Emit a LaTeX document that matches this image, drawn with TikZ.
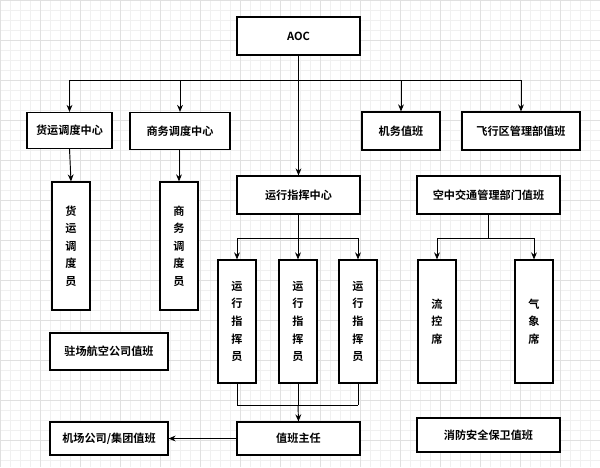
\documentclass[tikz,border=0pt]{standalone}
\usepackage{fontspec}
\newfontfamily\cjk{Noto Sans CJK SC}[BoldFont={Noto Sans CJK SC Bold}]
\usetikzlibrary{arrows.meta}
\begin{document}
\begin{tikzpicture}[x=0.03cm,y=-0.03cm,
  box/.style={draw=black,line width=1pt,fill=white,inner sep=0pt,font=\cjk\bfseries\fontsize{9.5}{12}\selectfont,align=center},
  ar/.style={line width=0.8pt,-{Stealth[length=6pt,width=5pt]}},
  ln/.style={line width=0.8pt}]
\useasboundingbox (0,0) rectangle (600,467);
\fill[white] (0,0) rectangle (600,467);
\foreach \i in {0,10,...,600} \draw[black!6,line width=0.3pt] (\i,0)--(\i,467);
\foreach \i in {0,10,...,460} \draw[black!6,line width=0.3pt] (0,\i)--(600,\i);
\foreach \i in {0,40,...,600} \draw[black!12,line width=0.4pt] (\i,0)--(\i,467);
\foreach \i in {0,40,...,460} \draw[black!12,line width=0.4pt] (0,\i)--(600,\i);
\newcommand{\bx}[6]{\node[box,minimum width=#3*0.03cm,minimum height=#4*0.03cm] (#1) at (#2) {#5};}
\bx{aoc}{298.5,36}{123}{38}{AOC}{}
\bx{hy}{69.5,130.5}{85}{36}{货运调度中心}{}
\bx{sw}{180,131}{100}{37}{商务调度中心}{}
\bx{jw}{401,131}{78}{38}{机务值班}{}
\bx{fx}{521,131}{118}{38}{飞行区管理部值班}{}
\bx{yx}{298.5,195}{123}{38}{运行指挥中心}{}
\bx{kz}{488.5,195}{143}{38}{空中交通管理部门值班}{}
\bx{hyy}{71,246}{38}{128}{货\\[3pt]运\\[3pt]调\\[3pt]度\\[3pt]员}{}
\bx{swy}{179,246}{38}{128}{商\\[3pt]务\\[3pt]调\\[3pt]度\\[3pt]员}{}
\bx{z1}{237,321.5}{38}{123}{运\\[3pt]行\\[3pt]指\\[3pt]挥\\[3pt]员}{}
\bx{z2}{298,321.5}{38}{123}{运\\[3pt]行\\[3pt]指\\[3pt]挥\\[3pt]员}{}
\bx{z3}{358,321.5}{38}{123}{运\\[3pt]行\\[3pt]指\\[3pt]挥\\[3pt]员}{}
\bx{lk}{437,321.5}{38}{123}{流\\[3pt]控\\[3pt]席}{}
\bx{qx}{534,321.5}{38}{123}{气\\[3pt]象\\[3pt]席}{}
\bx{zc}{109,351.5}{118}{37}{驻场航空公司值班}{}
\bx{zb}{298.5,438.5}{123}{33}{值班主任}{}
\bx{jc}{109,438.5}{118}{33}{机场公司/集团值班}{}
\bx{xf}{488.5,435}{143}{34}{消防安全保卫值班}{}
\coordinate (t) at (298.5,80);
\draw[ln] (aoc.south)--(t);
\draw[ln] (hy.north|-t)--(fx.north|-t);
\foreach \n in {hy,sw,jw,fx} \draw[ar] (\n.north|-t)--(\n.north);
\draw[ar] (t)--(yx.north);
\draw[ar] (hy.south)--(hyy.north);
\draw[ar] (sw.south-|swy.north)--(swy.north);
\coordinate (m) at (298.5,238);
\draw[ln] (yx.south)--(m);
\draw[ln] (z1.north|-m)--(z3.north|-m);
\foreach \n in {z1,z2,z3} \draw[ar] (\n.north|-m)--(\n.north);
\coordinate (k) at (488.5,238);
\draw[ln] (kz.south)--(k);
\draw[ln] (lk.north|-k)--(qx.north|-k);
\foreach \n in {lk,qx} \draw[ar] (\n.north|-k)--(\n.north);
\coordinate (b) at (298,405);
\foreach \n in {z1,z2,z3} \draw[ln] (\n.south)--(\n.south|-b);
\draw[ln] (z1.south|-b)--(z3.south|-b);
\draw[ar] (b)--(zb.north);
\draw[ar] (zb.west)--(jc.east);
\end{tikzpicture}
\end{document}
